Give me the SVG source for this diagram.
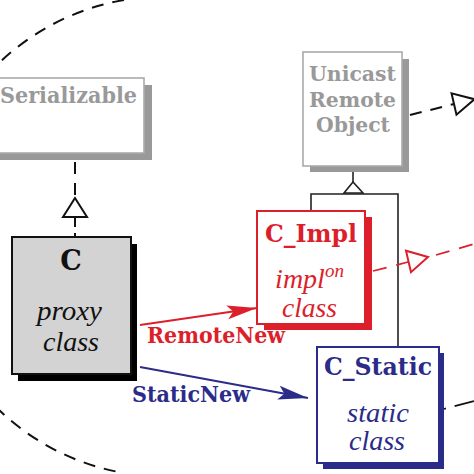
<svg xmlns="http://www.w3.org/2000/svg" width="474" height="474" viewBox="0 0 474 474">
<style>
.b{font-family:"DejaVu Serif","Liberation Serif",serif;font-weight:bold;text-anchor:middle}
.i{font-family:"Liberation Serif","DejaVu Serif",serif;font-style:italic;text-anchor:middle}
.dash{fill:none;stroke:#111;stroke-width:2;stroke-dasharray:12 9}
.gray{fill:#999}
.red{fill:#dc1f2b}
.navy{fill:#2b2b8a}
</style>
<defs>
<marker id="arrR" markerUnits="userSpaceOnUse" markerWidth="34" markerHeight="20" refX="30" refY="8" orient="auto" viewBox="0 0 34 16">
<path d="M30,8 L0,1 L6,8 L0,15 Z" fill="#dc1f2b"/>
</marker>
<marker id="arrN" markerUnits="userSpaceOnUse" markerWidth="34" markerHeight="20" refX="30" refY="8" orient="auto" viewBox="0 0 34 16">
<path d="M30,8 L0,1 L6,8 L0,15 Z" fill="#2b2b8a"/>
</marker>
</defs>
<rect width="474" height="474" fill="#fff"/>

<g id="connectors">
<path class="dash" d="M 124 0 A 240 240 0 0 0 124 473"/>
<line class="dash" x1="75" y1="162" x2="75" y2="198"/>
<line x1="75" y1="217" x2="75" y2="237" stroke="#111" stroke-width="2" stroke-dasharray="10 6"/>
<polygon points="75,198 63,217 87,217" fill="#fff" stroke="#111" stroke-width="2"/>
<line class="dash" x1="410" y1="115" x2="454" y2="104"/>
<polygon points="0,-11 0,11 21,0" fill="#fff" stroke="#111" stroke-width="2" transform="translate(454,104) rotate(-13)"/>
<line x1="353" y1="172" x2="353" y2="182" stroke="#222" stroke-width="1.6"/>
<polygon points="353,182 344,193 363,193" fill="#fff" stroke="#222" stroke-width="1.6"/>
<polyline points="311,211 311,194 398,194 398,347" fill="none" stroke="#222" stroke-width="1.6"/>
<line x1="373" y1="271" x2="408" y2="262" stroke="#dc1f2b" stroke-width="1.8" stroke-dasharray="14 10"/>
<polygon points="0,-11 0,11 20,0" fill="#fff" stroke="#dc1f2b" stroke-width="2" transform="translate(408.5,261.5) rotate(-13)"/>
<line x1="436" y1="255" x2="474" y2="244" stroke="#dc1f2b" stroke-width="1.8" stroke-dasharray="14 10"/>
<line x1="444" y1="409" x2="474" y2="401" stroke="#111" stroke-width="1.8" stroke-dasharray="2 9 20 10"/>
<line x1="140" y1="325" x2="257" y2="308" stroke="#dc1f2b" stroke-width="2" marker-end="url(#arrR)"/>
<line x1="140" y1="367" x2="308" y2="398" stroke="#2b2b8a" stroke-width="2" marker-end="url(#arrN)"/>
<text class="b red" x="216" y="343" font-size="22" textLength="138" lengthAdjust="spacingAndGlyphs">RemoteNew</text>
<text class="b navy" x="191" y="402" font-size="22" textLength="118" lengthAdjust="spacingAndGlyphs">StaticNew</text>
</g>

<g id="serializable">
<rect x="-2" y="85" width="154" height="75" class="gray"/>
<rect x="-10" y="78" width="154" height="75" fill="#fff" stroke="#aaa" stroke-width="1.6"/>
<text class="b" x="68.5" y="103" font-size="21.5" fill="#999" textLength="137" lengthAdjust="spacingAndGlyphs">Serializable</text>
</g>

<g id="unicast">
<rect x="310" y="59" width="99" height="113" class="gray"/>
<rect x="303" y="52" width="99" height="114" fill="#fff" stroke="#aaa" stroke-width="1.6"/>
<text class="b" x="352.5" y="81" font-size="21" fill="#999" textLength="87" lengthAdjust="spacingAndGlyphs">Unicast</text>
<text class="b" x="352.5" y="107" font-size="21" fill="#999" textLength="87" lengthAdjust="spacingAndGlyphs">Remote</text>
<text class="b" x="353" y="132" font-size="21" fill="#999" textLength="74" lengthAdjust="spacingAndGlyphs">Object</text>
</g>

<g id="c">
<rect x="18" y="244" width="119" height="137" fill="#000"/>
<rect x="12" y="237" width="119" height="137" fill="#d3d3d3" stroke="#111" stroke-width="2"/>
<text class="b" x="71" y="270" font-size="27" fill="#111">C</text>
<text class="i" x="69.5" y="320" font-size="28" fill="#111" textLength="65" lengthAdjust="spacingAndGlyphs">proxy</text>
<text class="i" x="71" y="351" font-size="28" fill="#111" textLength="56" lengthAdjust="spacingAndGlyphs">class</text>
</g>

<g id="c_impl">
<rect x="264" y="217" width="108" height="113" class="red"/>
<rect x="257" y="211" width="108" height="113" fill="#fff" stroke="#dc1f2b" stroke-width="2"/>
<text class="b red" x="311" y="242" font-size="25" textLength="92" lengthAdjust="spacingAndGlyphs">C_Impl</text>
<text class="i red" x="309.5" y="288" font-size="28"><tspan>impl</tspan><tspan font-size="19" dy="-11">on</tspan></text>
<text class="i red" x="309.5" y="317" font-size="28" textLength="55" lengthAdjust="spacingAndGlyphs">class</text>
</g>

<g id="c_static">
<rect x="323" y="353" width="121" height="116" class="navy"/>
<rect x="317" y="347" width="122" height="116" fill="#fff" stroke="#2b2b8a" stroke-width="2"/>
<text class="b navy" x="378" y="375" font-size="24" textLength="108" lengthAdjust="spacingAndGlyphs">C_Static</text>
<text class="i navy" x="378" y="422" font-size="28" textLength="62" lengthAdjust="spacingAndGlyphs">static</text>
<text class="i navy" x="377" y="450" font-size="28" textLength="56" lengthAdjust="spacingAndGlyphs">class</text>
</g>
</svg>
